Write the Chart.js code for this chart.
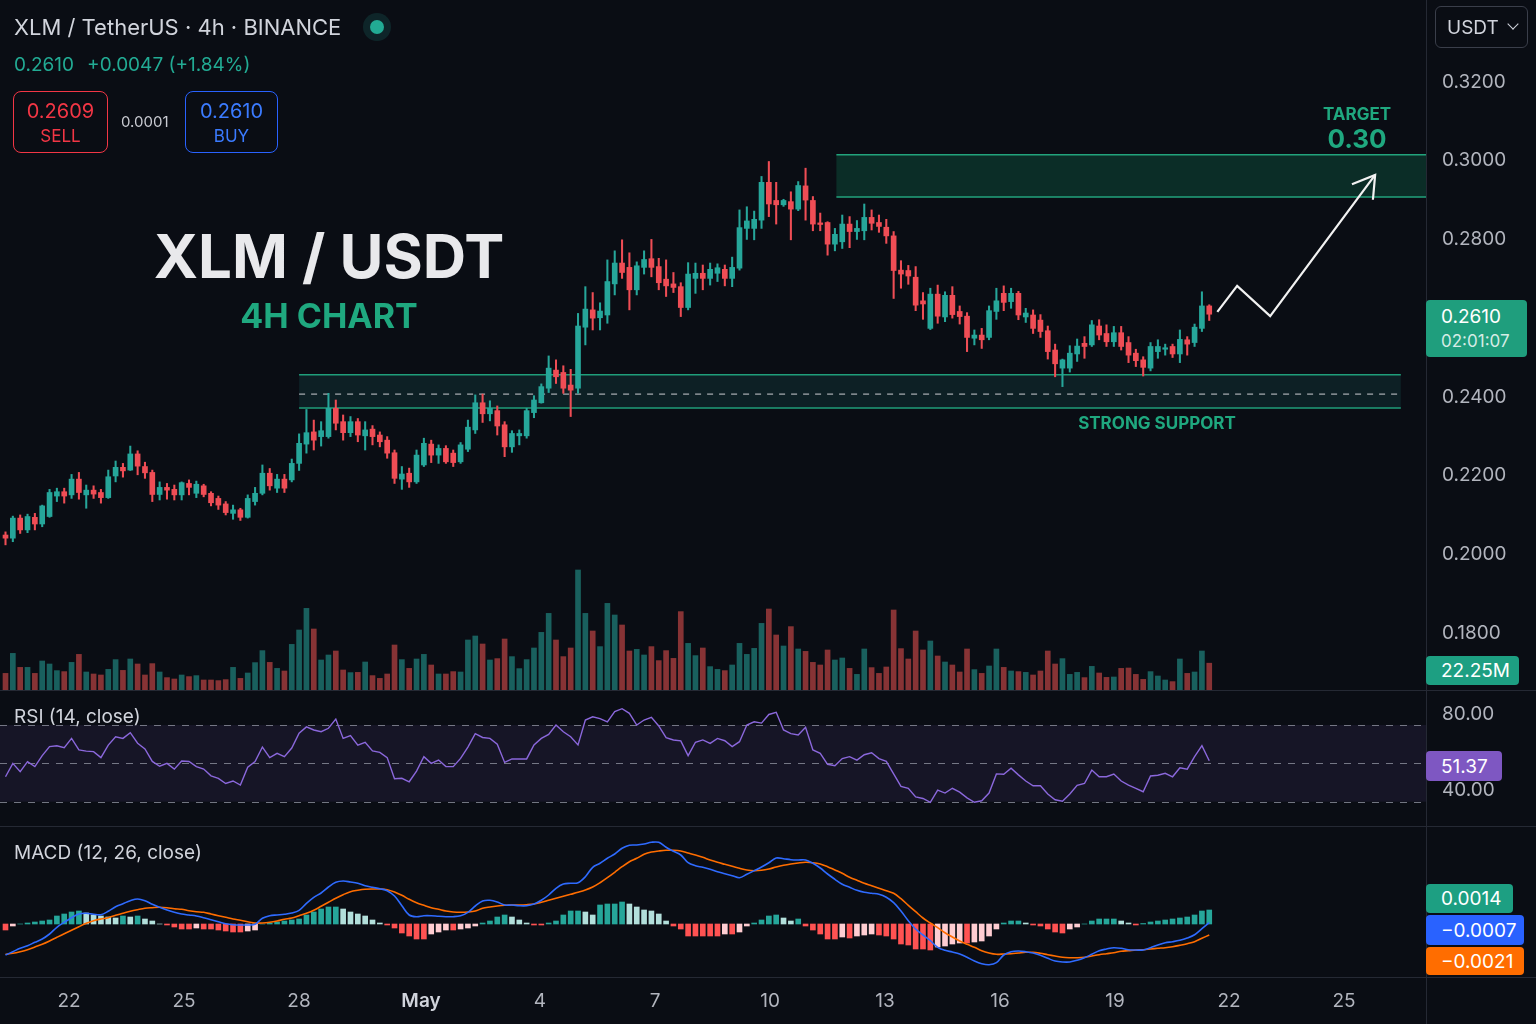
<!DOCTYPE html>
<html>
<head>
<meta charset="utf-8">
<script src="https://cdn.jsdelivr.net/npm/chart.js@4.4.1/dist/chart.umd.min.js"></script>
<style>
html, body { margin: 0; padding: 0; background: #0a0d14; }
body { width: 1536px; height: 1024px; overflow: hidden; position: relative; font-family: Inter, "Noto Sans", sans-serif; }
canvas { position: absolute; left: 0; }
#priceCanvas { top: 0; }
#rsiCanvas { top: 691px; }
#macdCanvas { top: 826px; }
.ov { position: absolute; white-space: nowrap; pointer-events: none; }
.sep { position: absolute; background: #252934; }
.sep.h { left: 0; width: 1536px; height: 1px; }
.sep.v { left: 1426px; top: 0; width: 1px; height: 1024px; }
.tag { position: absolute; left: 1426px; color: #fff; font-size: 19px; display: flex; align-items: center; padding-left: 15px; box-sizing: border-box; border-radius: 4px; }
.box { position: absolute; box-sizing: border-box; border-radius: 8px; border: 1.5px solid; }
.box div { position: absolute; left: 0; width: 100%; text-align: center; }
</style>
</head>
<body>
<canvas id="priceCanvas" width="1536" height="691"></canvas>
<canvas id="rsiCanvas" width="1536" height="135"></canvas>
<canvas id="macdCanvas" width="1536" height="198"></canvas>

<div class="sep h" style="top:690px"></div>
<div class="sep h" style="top:826px"></div>
<div class="sep h" style="top:977px"></div>
<div class="sep v"></div>

<div class="ov" style="left:14px;top:14px;line-height:26px;font-size:22px;color:#d1d4dc">XLM / TetherUS · 4h · BINANCE</div>
<div class="ov" style="left:363px;top:13px;width:28px;height:28px;border-radius:50%;background:rgba(38,166,154,0.16)"></div>
<div class="ov" style="left:370px;top:20px;width:14px;height:14px;border-radius:50%;background:#22ab94"></div>
<div class="ov" style="left:14px;top:53px;line-height:24px;font-size:19px;color:#22ab94">0.2610<span style="margin-left:13px">+0.0047 (+1.84%)</span></div>

<div class="box ov" style="left:13px;top:91px;width:95px;height:62px;border-color:#f23645;color:#f23645">
  <div style="top:7px;font-size:20px;line-height:24px">0.2609</div>
  <div style="top:33px;font-size:17px;line-height:22px">SELL</div>
</div>
<div class="ov" style="left:121px;top:112px;line-height:20px;font-size:15px;color:#c9cbd2">0.0001</div>
<div class="box ov" style="left:185px;top:91px;width:93px;height:62px;border-color:#2962ff;color:#3b7bff">
  <div style="top:7px;font-size:20px;line-height:24px">0.2610</div>
  <div style="top:33px;font-size:17px;line-height:22px">BUY</div>
</div>

<div class="ov" style="left:0;width:658px;text-align:center;top:220px;line-height:72px;font-size:60px;font-weight:700;color:#e9e9ec">XLM / USDT</div>
<div class="ov" style="left:0;width:658px;text-align:center;top:296px;line-height:40px;font-size:34px;font-weight:700;color:#1fa87f">4H CHART</div>

<div class="ov" style="left:1257px;width:200px;text-align:center;top:103px;line-height:22px;font-size:17px;font-weight:700;color:#1fa87f">TARGET</div>
<div class="ov" style="left:1257px;width:200px;text-align:center;top:123px;line-height:32px;font-size:26px;font-weight:700;color:#1fa87f">0.30</div>
<div class="ov" style="left:1007px;width:300px;text-align:center;top:412px;line-height:22px;font-size:17px;font-weight:700;color:#1fa87f">STRONG SUPPORT</div>

<div class="ov" style="left:14px;top:705px;line-height:24px;font-size:19px;color:#d1d4dc">RSI (14, close)</div>
<div class="ov" style="left:14px;top:841px;line-height:24px;font-size:19px;color:#d1d4dc">MACD (12, 26, close)</div>

<div class="ov" style="left:1435px;top:6px;width:93px;height:42px;box-sizing:border-box;border:1px solid #3a3e4a;border-radius:6px">
  <div style="position:absolute;left:11px;top:9px;line-height:24px;font-size:19px;color:#d1d4dc">USDT</div>
  <div style="position:absolute;left:73px;top:13px;width:7px;height:7px;border-right:1.6px solid #d1d4dc;border-bottom:1.6px solid #d1d4dc;transform:rotate(45deg)"></div>
</div>

<div class="tag ov" style="top:300px;height:57px;width:101px;background:#1f9e7d;flex-direction:column;align-items:flex-start;justify-content:center">
  <div style="line-height:24px">0.2610</div>
  <div style="line-height:24px;font-size:17px;color:rgba(255,255,255,0.82)">02:01:07</div>
</div>
<div class="tag ov" style="top:656px;height:29px;width:93px;background:#1d9f82">22.25M</div>
<div class="tag ov" style="top:751px;height:30px;width:76px;background:#7e57c2">51.37</div>
<div class="tag ov" style="top:884px;height:29px;width:87px;background:#1d9f82">0.0014</div>
<div class="tag ov" style="top:915px;height:30px;width:98px;background:#2962ff">−0.0007</div>
<div class="tag ov" style="top:947px;height:28px;width:98px;background:#ff6d00">−0.0021</div>

<script>
// 4h candles, index 0 = first candle on the left
const opens = [
  .2049,.2041,.2092,.2062,.2094,.2077,.2096,.2148,.2159,.2151,
  .2191,.2151,.2163,.2157,.2144,.2199,.2221,.2214,.2255,.2223,
  .2208,.2152,.2170,.2165,.2151,.2180,.2155,.2174,.2155,.2142,
  .2128,.2104,.2113,.2094,.2134,.2155,.2206,.2168,.2191,.2189,
  .2231,.2280,.2311,.2299,.2299,.2371,.2337,.2309,.2337,.2301,
  .2318,.2303,.2290,.2258,.2191,.2206,.2184,.2227,.2280,.2252,
  .2269,.2257,.2235,.2267,.2316,.2385,.2357,.2365,.2329,.2273,
  .2301,.2301,.2360,.2385,.2422,.2468,.2462,.2430,.2422,.2577,
  .2621,.2601,.2608,.2687,.2740,.2729,.2672,.2729,.2751,.2731,
  .2699,.2687,.2680,.2627,.2701,.2714,.2701,.2714,.2724,.2701,
  .2727,.2828,.2828,.2849,.2945,.2899,.2888,.2896,.2877,.2936,
  .2899,.2842,.2843,.2788,.2794,.2839,.2820,.2822,.2856,.2843,
  .2831,.2809,.2722,.2721,.2704,.2644,.2574,.2661,.2603,.2658,
  .2617,.2605,.2549,.2557,.2551,.2617,.2663,.2642,.2663,.2603,
  .2608,.2595,.2568,.2519,.2473,.2473,.2509,.2536,.2532,.2580,
  .2561,.2540,.2563,.2538,.2511,.2494,.2473,.2515,.2521,.2528,
  .2509,.2545,.2538,.2574,.2631
];
const highs = [
  .2057,.2097,.2100,.2102,.2104,.2125,.2165,.2168,.2168,.2203,
  .2208,.2176,.2174,.2165,.2214,.2237,.2231,.2275,.2263,.2234,
  .2214,.2184,.2180,.2176,.2184,.2189,.2186,.2178,.2159,.2148,
  .2134,.2125,.2117,.2151,.2170,.2227,.2218,.2203,.2203,.2242,
  .2306,.2368,.2341,.2337,.2409,.2392,.2354,.2350,.2345,.2337,
  .2327,.2311,.2299,.2265,.2223,.2219,.2265,.2295,.2290,.2278,
  .2276,.2265,.2284,.2341,.2405,.2407,.2390,.2377,.2337,.2314,
  .2316,.2371,.2403,.2433,.2504,.2494,.2479,.2470,.2612,.2680,
  .2665,.2639,.2748,.2771,.2799,.2766,.2743,.2771,.2800,.2752,
  .2748,.2716,.2690,.2741,.2740,.2735,.2740,.2738,.2735,.2755,
  .2875,.2883,.2872,.2960,.2998,.2945,.2902,.2921,.2947,.2981,
  .2909,.2867,.2845,.2828,.2862,.2858,.2848,.2890,.2875,.2862,
  .2851,.2820,.2746,.2734,.2731,.2665,.2676,.2684,.2667,.2680,
  .2631,.2614,.2570,.2574,.2631,.2676,.2682,.2676,.2668,.2625,
  .2621,.2609,.2580,.2534,.2496,.2530,.2547,.2553,.2594,.2596,
  .2583,.2579,.2579,.2553,.2521,.2502,.2538,.2545,.2534,.2534,
  .2570,.2553,.2585,.2667,.2634
];
const lows = [
  .2024,.2032,.2053,.2055,.2062,.2070,.2094,.2134,.2130,.2142,
  .2140,.2117,.2142,.2130,.2142,.2184,.2196,.2213,.2202,.2193,
  .2134,.2138,.2140,.2138,.2138,.2151,.2144,.2146,.2123,.2114,
  .2100,.2089,.2086,.2092,.2125,.2151,.2163,.2157,.2157,.2184,
  .2213,.2257,.2265,.2275,.2295,.2316,.2290,.2299,.2286,.2265,
  .2278,.2273,.2244,.2180,.2165,.2170,.2180,.2223,.2233,.2231,
  .2231,.2223,.2231,.2261,.2307,.2335,.2339,.2303,.2248,.2259,
  .2278,.2295,.2347,.2384,.2411,.2434,.2409,.2350,.2409,.2532,
  .2570,.2570,.2587,.2659,.2701,.2621,.2659,.2712,.2705,.2672,
  .2655,.2665,.2604,.2621,.2663,.2672,.2684,.2693,.2682,.2680,
  .2722,.2800,.2799,.2828,.2858,.2839,.2884,.2799,.2873,.2849,
  .2822,.2822,.2760,.2771,.2777,.2779,.2800,.2799,.2824,.2818,
  .2790,.2650,.2676,.2686,.2619,.2597,.2571,.2587,.2591,.2600,
  .2585,.2515,.2532,.2523,.2545,.2597,.2619,.2625,.2596,.2589,
  .2561,.2551,.2496,.2451,.2426,.2463,.2490,.2498,.2528,.2545,
  .2528,.2528,.2519,.2487,.2477,.2453,.2466,.2498,.2506,.2500,
  .2487,.2506,.2528,.2566,.2594
];
const closes = [
  .2041,.2092,.2062,.2096,.2077,.2123,.2157,.2159,.2148,.2191,
  .2157,.2163,.2153,.2144,.2197,.2221,.2212,.2255,.2224,.2207,
  .2152,.2170,.2163,.2151,.2182,.2170,.2178,.2152,.2131,.2125,
  .2106,.2113,.2094,.2142,.2155,.2206,.2174,.2191,.2168,.2231,
  .2282,.2309,.2290,.2314,.2371,.2333,.2309,.2337,.2303,.2316,
  .2299,.2286,.2257,.2193,.2204,.2184,.2252,.2282,.2252,.2269,
  .2235,.2233,.2278,.2323,.2385,.2357,.2371,.2326,.2273,.2307,
  .2307,.2365,.2392,.2426,.2473,.2451,.2422,.2417,.2580,.2623,
  .2600,.2618,.2693,.2740,.2716,.2672,.2733,.2749,.2729,.2690,
  .2682,.2678,.2627,.2712,.2714,.2701,.2724,.2728,.2701,.2729,
  .2830,.2847,.2851,.2945,.2890,.2888,.2899,.2877,.2937,.2900,
  .2839,.2838,.2788,.2813,.2839,.2820,.2828,.2856,.2841,.2833,
  .2809,.2721,.2712,.2707,.2633,.2636,.2661,.2605,.2658,.2609,
  .2604,.2551,.2557,.2545,.2619,.2644,.2640,.2663,.2608,.2613,
  .2574,.2566,.2515,.2484,.2494,.2511,.2529,.2528,.2583,.2557,
  .2540,.2563,.2528,.2506,.2492,.2475,.2528,.2528,.2524,.2509,
  .2546,.2534,.2577,.2631,.2610
];
// volume in millions
const volumes = [
  14.1,30.1,18.9,18.9,14.1,24.0,21.6,16.3,15.5,22.9,
  29.3,15.2,13.6,12.8,17.3,25.1,16.5,25.6,21.6,12.8,
  21.9,15.2,10.7,9.6,12.8,11.5,12.3,8.8,8.8,8.3,
  9.1,18.9,10.1,14.4,22.7,32.3,22.9,18.1,16.0,37.3,
  48.8,66.1,49.6,24.8,28.8,32.0,16.8,14.7,14.9,23.2,
  12.3,10.1,13.6,36.8,25.1,18.1,25.6,29.3,20.8,13.6,
  13.6,15.5,15.2,40.8,44.0,37.6,24.8,25.9,41.6,27.5,
  17.9,25.1,34.4,46.9,62.1,40.8,27.5,34.4,96.8,62.1,
  48.0,35.5,70.1,60.8,52.8,32.0,33.3,28.8,35.5,24.3,
  32.3,26.1,63.5,38.1,28.3,34.4,19.5,17.3,16.3,20.8,
  38.1,29.3,34.1,54.1,65.6,44.8,36.0,51.5,33.6,31.7,
  22.9,20.8,32.8,24.8,26.4,18.1,13.3,33.6,18.7,14.1,
  19.2,64.8,33.9,25.6,48.0,32.8,40.0,28.0,23.2,20.8,
  15.2,33.6,17.1,14.1,20.0,33.6,18.9,16.0,15.5,14.9,
  12.8,16.0,32.0,21.6,25.9,13.3,14.9,10.7,19.7,14.4,
  10.9,11.2,18.1,18.4,13.3,9.3,15.5,12.0,8.8,7.5,
  25.6,14.1,15.2,32.0,22.25
];
const rsiValues = [
  43.0,50.0,45.7,50.9,48.3,54.0,58.7,59.2,58.2,63.0,
  57.0,56.4,56.1,53.0,59.5,63.9,63.0,66.0,60.5,57.5,
  51.0,48.5,50.0,47.0,51.2,51.0,48.3,47.0,43.5,42.2,
  39.5,40.8,38.7,48.0,50.9,58.5,53.0,55.2,53.5,58.0,
  65.7,69.0,67.4,66.5,68.3,73.1,63.0,64.5,59.5,61.0,
  56.5,55.7,53.0,42.0,42.2,40.4,46.0,53.5,50.0,51.7,
  48.3,48.3,52.6,58.5,65.5,63.5,63.0,60.0,50.5,52.3,
  52.3,52.3,59.6,63.0,65.1,70.0,66.5,63.9,59.6,72.6,
  74.3,73.3,71.6,77.0,78.5,76.1,70.0,72.6,74.0,69.5,
  63.4,62.2,61.7,54.0,61.0,62.2,60.4,63.0,61.8,58.7,
  61.3,70.0,71.7,71.0,75.5,76.6,67.4,65.5,64.8,68.8,
  57.0,55.2,49.5,48.8,52.5,53.5,51.7,54.5,55.5,52.5,
  51.0,44.5,38.0,37.0,32.5,31.7,29.7,36.0,34.5,37.0,
  35.0,32.0,29.7,30.5,34.5,44.5,44.3,47.5,44.0,40.8,
  38.3,38.3,34.0,31.0,30.3,34.0,38.5,39.5,46.5,43.0,
  43.0,44.4,40.8,38.6,37.0,35.2,43.4,43.8,44.8,43.0,
  47.7,47.0,53.5,59.2,51.37
];
// MACD values in thousandths (0.001)
const macdLine = [
  -3.10,-2.77,-2.43,-2.17,-1.83,-1.50,-1.00,-0.33,0.17,0.63,
  1.00,1.07,0.97,0.93,1.27,1.73,2.03,2.33,2.50,2.33,
  1.97,1.67,1.40,1.17,1.00,0.90,0.80,0.63,0.43,0.23,
  0.03,-0.07,-0.10,-0.10,-0.03,0.57,0.83,0.90,0.97,1.10,
  1.37,2.07,2.67,3.10,3.70,4.17,4.30,4.20,4.07,3.83,
  3.67,3.53,3.33,2.80,1.83,0.90,0.73,0.83,0.83,0.77,
  0.73,0.73,0.83,1.17,1.80,2.30,2.37,2.20,1.90,1.90,
  1.83,1.83,2.00,2.37,2.90,3.57,4.00,4.07,4.13,4.73,
  5.67,6.07,6.57,7.00,7.57,7.87,7.90,8.00,8.17,8.17,
  7.67,7.27,6.90,6.13,5.83,5.67,5.47,5.23,5.03,4.83,
  4.63,4.97,5.33,5.70,6.13,6.60,6.53,6.43,6.40,6.40,
  6.07,5.60,5.00,4.47,3.97,3.67,3.37,3.17,3.07,2.97,
  2.67,2.13,1.30,0.33,-0.50,-1.10,-1.67,-2.33,-2.63,-2.80,
  -3.00,-3.33,-3.70,-3.97,-4.07,-3.87,-3.10,-2.77,-2.70,-2.77,
  -2.90,-3.13,-3.43,-3.70,-3.80,-3.80,-3.63,-3.37,-3.03,-2.67,
  -2.50,-2.37,-2.43,-2.57,-2.60,-2.60,-2.37,-2.10,-1.87,-1.77,
  -1.63,-1.40,-1.07,-0.47,0.13
];
const signalLine = [
  -3.03,-2.93,-2.77,-2.57,-2.30,-2.03,-1.70,-1.33,-0.97,-0.63,
  -0.27,0.07,0.33,0.50,0.63,0.87,1.07,1.27,1.43,1.57,
  1.63,1.67,1.63,1.53,1.47,1.33,1.23,1.17,1.00,0.83,
  0.67,0.50,0.37,0.23,0.10,0.10,0.17,0.30,0.47,0.60,
  0.83,1.07,1.37,1.77,2.17,2.57,2.93,3.23,3.37,3.47,
  3.50,3.50,3.43,3.20,2.87,2.47,2.13,1.87,1.63,1.47,
  1.30,1.20,1.17,1.20,1.30,1.57,1.70,1.80,1.87,1.90,
  1.90,1.93,2.00,2.17,2.37,2.57,2.77,2.97,3.17,3.40,
  3.70,4.13,4.63,5.17,5.73,6.23,6.57,6.97,7.20,7.30,
  7.37,7.37,7.30,7.10,6.90,6.67,6.40,6.17,5.97,5.77,
  5.57,5.40,5.33,5.37,5.50,5.70,5.87,6.00,6.10,6.17,
  6.13,6.00,5.73,5.40,5.07,4.67,4.37,4.07,3.83,3.57,
  3.33,3.07,2.53,1.87,1.23,0.60,0.10,-0.37,-0.87,-1.30,
  -1.70,-2.03,-2.33,-2.67,-2.90,-3.03,-3.00,-2.97,-2.90,-2.83,
  -2.83,-2.93,-3.07,-3.20,-3.33,-3.37,-3.37,-3.33,-3.20,-3.07,
  -2.97,-2.87,-2.73,-2.67,-2.60,-2.57,-2.50,-2.43,-2.37,-2.27,
  -2.13,-1.97,-1.77,-1.43,-1.10
];
const macdHist = [
  -0.6,-0.2,0.0,0.1,0.2,0.3,0.4,0.8,1.0,1.2,
  1.3,1.1,0.9,0.8,0.7,0.6,0.8,0.7,0.8,0.5,
  0.3,0.0,-0.1,-0.3,-0.5,-0.5,-0.4,-0.5,-0.5,-0.6,
  -0.7,-0.8,-0.8,-0.7,-0.6,0.0,0.1,0.2,0.3,0.4,
  0.5,0.9,1.2,1.5,1.7,1.7,1.5,1.2,1.0,0.8,
  0.4,0.1,-0.1,-0.4,-0.9,-1.2,-1.5,-1.5,-1.0,-0.8,
  -0.6,-0.6,-0.5,-0.4,-0.2,0.1,0.3,0.7,0.9,0.7,
  0.4,0.1,-0.1,-0.1,0.1,0.3,0.9,1.3,1.3,1.2,
  0.9,1.9,2.0,2.0,2.2,2.0,1.7,1.4,1.3,1.0,
  0.3,-0.2,-0.5,-1.2,-1.2,-1.2,-1.2,-1.2,-1.0,-1.0,
  -0.8,-0.2,0.1,0.4,0.8,0.9,0.6,0.3,0.5,-0.2,
  -0.6,-1.0,-1.5,-1.5,-1.3,-1.4,-1.2,-1.1,-1.0,-1.1,
  -1.2,-1.5,-2.0,-2.1,-2.5,-2.5,-2.6,-2.3,-2.2,-2.0,
  -1.9,-1.9,-1.8,-1.7,-1.2,-0.5,0.1,0.3,0.3,0.1,
  -0.1,-0.2,-0.5,-0.8,-0.9,-0.5,-0.3,0.0,0.3,0.5,
  0.5,0.5,0.3,0.1,-0.1,0.05,0.2,0.3,0.4,0.5,
  0.6,0.7,0.9,1.3,1.4
];
const priceTicks = [0.18, 0.20, 0.22, 0.24, 0.26, 0.28, 0.30, 0.32];
const rsiTicks = [80, 40];
const rsiBands = [70, 50, 30];
// date ticks, placed in candle-index units
const dateTickPos = [8.65, 24.32, 39.99, 56.61, 72.82, 88.49, 104.16, 119.82, 135.49, 151.16, 166.69, 182.36];
const dateTickLabels = ['22', '25', '28', 'May', '4', '7', '10', '13', '16', '19', '22', '25'];

// drawn levels, in candle index / price
const supportZone = { from: 40.0, to: 190.1, top: 0.2456, mid: 0.2407, bottom: 0.2372 };
const targetZone = { from: 113.2, top: 0.3015, bottom: 0.2908 };
const arrowPath = [[165.1, 0.2616], [167.8, 0.2682], [172.3, 0.2605], [186.6, 0.2964]];

const X_MIN = -0.75, X_MAX = 193.53, AXIS_W = 110;
const UP = '#26a69a', DOWN = '#ef4d55';

Chart.defaults.font.family = 'Inter, "Noto Sans", sans-serif';
Chart.defaults.animation = false;
Chart.defaults.responsive = false;
Chart.defaults.events = [];
Chart.defaults.plugins.legend.display = false;
Chart.defaults.plugins.tooltip.enabled = false;

const hiddenX = () => ({ type: 'linear', min: X_MIN, max: X_MAX, offset: false, display: false, grid: { display: false, offset: false } });

const rightAxis = (extra) => Object.assign({
    position: 'right',
    grid: { display: false },
    border: { display: false },
    afterFit: (s) => { s.width = AXIS_W; s.paddingTop = 0; s.paddingBottom = 0; }
}, extra);

const isUp = closes.map((c, i) => c >= opens[i]);

const zonePlugin = {
    id: 'zones',
    beforeDatasetsDraw(chart) {
        const { ctx, chartArea, scales: { x, y } } = chart;
        ctx.save();
        // target box
        const tx = x.getPixelForValue(targetZone.from);
        const tt = y.getPixelForValue(targetZone.top);
        const tb = y.getPixelForValue(targetZone.bottom);
        ctx.fillStyle = 'rgba(20,160,110,0.22)';
        ctx.fillRect(tx, tt, chartArea.right - tx, tb - tt);
        ctx.strokeStyle = '#22a37c';
        ctx.lineWidth = 1.5;
        ctx.beginPath();
        ctx.moveTo(tx, tt); ctx.lineTo(chartArea.right, tt);
        ctx.moveTo(tx, tb); ctx.lineTo(chartArea.right, tb);
        ctx.stroke();
        // support band
        const sx0 = x.getPixelForValue(supportZone.from);
        const sx1 = x.getPixelForValue(supportZone.to);
        const st = y.getPixelForValue(supportZone.top);
        const sb = y.getPixelForValue(supportZone.bottom);
        const sm = y.getPixelForValue(supportZone.mid);
        ctx.fillStyle = 'rgba(38,166,154,0.13)';
        ctx.fillRect(sx0, st, sx1 - sx0, sb - st);
        ctx.strokeStyle = '#1f9e7a';
        ctx.beginPath();
        ctx.moveTo(sx0, st); ctx.lineTo(sx1, st);
        ctx.moveTo(sx0, sb); ctx.lineTo(sx1, sb);
        ctx.stroke();
        ctx.setLineDash([6, 6]);
        ctx.lineWidth = 1.2;
        ctx.strokeStyle = 'rgba(225,225,230,0.75)';
        ctx.beginPath();
        ctx.moveTo(sx0, sm); ctx.lineTo(sx1, sm);
        ctx.stroke();
        ctx.restore();
    },
    afterDatasetsDraw(chart) {
        const { ctx, scales: { x, y } } = chart;
        const pts = arrowPath.map(([i, p]) => [x.getPixelForValue(i), y.getPixelForValue(p)]);
        ctx.save();
        ctx.strokeStyle = '#f2f2f2';
        ctx.lineWidth = 2.2;
        ctx.lineJoin = 'miter';
        ctx.beginPath();
        pts.forEach(([px, py], k) => k ? ctx.lineTo(px, py) : ctx.moveTo(px, py));
        ctx.stroke();
        const [ax, ay] = pts[pts.length - 1];
        const [bx, by] = pts[pts.length - 2];
        const ang = Math.atan2(ay - by, ax - bx);
        const len = 25, spread = 0.55;
        ctx.beginPath();
        ctx.moveTo(ax - len * Math.cos(ang - spread), ay - len * Math.sin(ang - spread));
        ctx.lineTo(ax, ay);
        ctx.lineTo(ax - len * Math.cos(ang + spread), ay - len * Math.sin(ang + spread));
        ctx.stroke();
        ctx.restore();
    }
};

new Chart(document.getElementById('priceCanvas'), {
    type: 'bar',
    data: {
        datasets: [{
            data: closes.map((c, i) => ({ x: i, y: [opens[i], c] })),
            backgroundColor: isUp.map(u => u ? UP : DOWN),
            barThickness: 5,
            minBarLength: 1.5,
            grouped: false,
            yAxisID: 'y'
        }, {
            data: highs.map((h, i) => ({ x: i, y: [lows[i], h] })),
            backgroundColor: isUp.map(u => u ? UP : DOWN),
            barThickness: 1.4,
            grouped: false,
            yAxisID: 'y'
        }, {
            data: volumes.map((v, i) => ({ x: i, y: v })),
            backgroundColor: isUp.map(u => u ? 'rgba(38,166,154,0.55)' : 'rgba(239,83,80,0.55)'),
            barThickness: 5,
            grouped: false,
            yAxisID: 'yv'
        }]
    },
    options: {
        scales: {
            x: hiddenX(),
            y: rightAxis({
                min: 0.16527,
                max: 0.34083,
                afterBuildTicks: (s) => { s.ticks = priceTicks.map(v => ({ value: v })); },
                ticks: { color: '#b2b5be', font: { size: 19 }, padding: 8, callback: (v) => v.toFixed(4) }
            }),
            yv: { display: false, position: 'right', min: 0, max: 552.8 }
        }
    },
    plugins: [zonePlugin]
});

const rsiBandPlugin = {
    id: 'rsiBand',
    beforeDatasetsDraw(chart) {
        const { ctx, chartArea, scales: { y } } = chart;
        const top = y.getPixelForValue(rsiBands[0]);
        const bottom = y.getPixelForValue(rsiBands[2]);
        ctx.save();
        ctx.fillStyle = 'rgba(126,87,194,0.11)';
        ctx.fillRect(chartArea.left, top, chartArea.right - chartArea.left, bottom - top);
        ctx.strokeStyle = 'rgba(150,153,165,0.75)';
        ctx.lineWidth = 1;
        ctx.setLineDash([7, 7]);
        rsiBands.forEach(v => {
            const py = Math.round(y.getPixelForValue(v)) + 0.5;
            ctx.beginPath();
            ctx.moveTo(chartArea.left, py);
            ctx.lineTo(chartArea.right, py);
            ctx.stroke();
        });
        ctx.restore();
    }
};

new Chart(document.getElementById('rsiCanvas'), {
    type: 'line',
    data: {
        datasets: [{
            data: rsiValues.map((v, i) => ({ x: i, y: v })),
            borderColor: '#8b68dc',
            borderWidth: 1.4,
            pointRadius: 0,
            tension: 0
        }]
    },
    options: {
        scales: {
            x: hiddenX(),
            y: rightAxis({
                min: 17.33,
                max: 87.73,
                afterBuildTicks: (s) => { s.ticks = rsiTicks.map(v => ({ value: v })); },
                ticks: { color: '#b2b5be', font: { size: 19 }, padding: 8, labelOffset: 8, callback: (v) => v.toFixed(2) }
            })
        }
    },
    plugins: [rsiBandPlugin]
});

const histColors = macdHist.map((v, i) => {
    const prev = i > 0 ? macdHist[i - 1] : v;
    if (v >= 0) return v >= prev ? '#26a69a' : '#b2dfdb';
    return v <= prev ? '#ff5252' : '#ffcdd2';
});

new Chart(document.getElementById('macdCanvas'), {
    type: 'bar',
    data: {
        datasets: [{
            type: 'line',
            data: macdLine.map((v, i) => ({ x: i, y: v })),
            borderColor: '#2f6bff',
            borderWidth: 1.6,
            pointRadius: 0,
            tension: 0.35
        }, {
            type: 'line',
            data: signalLine.map((v, i) => ({ x: i, y: v })),
            borderColor: '#ff6d00',
            borderWidth: 1.6,
            pointRadius: 0,
            tension: 0.35
        }, {
            type: 'bar',
            data: macdHist.map((v, i) => ({ x: i, y: v })),
            backgroundColor: histColors,
            barThickness: 5,
            grouped: false
        }]
    },
    options: {
        layout: { padding: { right: AXIS_W } },
        scales: {
            x: {
                type: 'linear',
                min: X_MIN,
                max: X_MAX,
                offset: false,
                position: 'bottom',
                grid: { display: false, offset: false },
                border: { display: false },
                afterBuildTicks: (s) => { s.ticks = dateTickPos.map(v => ({ value: v })); },
                afterFit: (s) => { s.height = 47; s.paddingLeft = 0; s.paddingRight = 0; },
                ticks: {
                    autoSkip: false,
                    maxRotation: 0,
                    padding: 5,
                    color: (ctx) => ctx.index === 3 ? '#d1d4dc' : '#b2b5be',
                    font: (ctx) => ({ size: 19, weight: ctx.index === 3 ? '600' : '400' }),
                    callback: (v, i) => dateTickLabels[i]
                }
            },
            y: { display: false, min: -5.3, max: 9.8 }
        }
    }
});
</script>
</body>
</html>
